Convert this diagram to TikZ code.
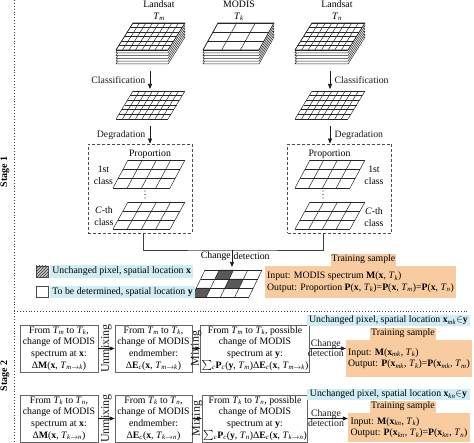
\documentclass[tikz,border=0pt]{standalone}
\usepackage{fontspec}
\setmainfont{Liberation Serif}
\usepackage{tikz}
\usetikzlibrary{positioning}
\usetikzlibrary{arrows.meta}
\usetikzlibrary{patterns}
\usepackage{xcolor}

\definecolor{locblue}{RGB}{208,236,245}
\definecolor{sampleorange}{RGB}{249,203,160}

\newcommand{\Tsub}[1]{\textit{T}\textsubscript{\textit{#1}}}
\newcommand{\bx}{\textbf{x}}
\newcommand{\by}{\textbf{y}}
\newcommand{\csub}{\textsubscript{\textit{c}}}

% lines of a raster, drawn from its top-left corner (use inside a slanted scope)
\newcommand{\cellgrid}[4]{%
  \foreach \i in {0,...,#3} \draw[gridline] (#1*\i/#3,0) -- (#1*\i/#3,#2);
  \foreach \j in {0,...,#4} \draw[gridline] (0,#2*\j/#4) -- (#1,#2*\j/#4);
}

\tikzset{
  gridline/.style={black!85, line width=0.5pt},
  layer/.style={draw=black!85, fill=white, line width=0.5pt},
  flow/.style={-{Triangle[length=5pt,width=4pt]}, black!90, line width=0.7pt},
  wire/.style={black!75, line width=0.7pt},
  propbox/.style={draw=black!70, dash pattern=on 3pt off 2pt, line width=0.9pt, minimum width=104pt, minimum height=89pt, inner sep=0pt},
  stepbox/.style={draw=black!60, line width=0.7pt, align=center, minimum height=47pt, inner xsep=1pt, inner ysep=0pt},
  locbox/.style={fill=locblue, inner xsep=2pt, inner ysep=2pt},
  samplehead/.style={fill=sampleorange, inner xsep=1pt, inner ysep=1.5pt},
  samplebox/.style={fill=sampleorange, align=left, inner xsep=2pt},
  keysq/.style={draw=black!70, minimum width=12pt, minimum height=11pt, inner sep=0pt},
  stagedots/.style={black!75, dotted, line width=0.9pt},
  vlabel/.style={rotate=90, font=\fontsize{12}{14}\selectfont, inner sep=0pt},
  stagelabel/.style={rotate=90, font=\bfseries\fontsize{10}{12}\selectfont},
}

\begin{document}
\begin{tikzpicture}[x=1pt, y=-1pt, font=\fontsize{9.8}{11.7}\selectfont]
\useasboundingbox (0,0) rectangle (474,443);

% stages
\draw[stagedots] (14,0) -- (14,443);
\draw[stagedots] (14,311) -- (467,311);
\node[stagelabel] (st1) at (5,172) {Stage 1};
\node[stagelabel] (st2) at (5,376) {Stage 2};

% input images
\node[align=center] (lsm) at (159,11) {Landsat\\\Tsub{m}};
\node[align=center] (mod) at (239,11) {MODIS\\\Tsub{k}};
\node[align=center] (lsn) at (337,11) {Landsat\\\Tsub{n}};

\foreach \k in {5,...,0}
  \draw[layer, shift={(0,2.8*\k)}] (133,23) -- ++(52,0) -- ++(-17,27) -- ++(-52,0) -- cycle;
\begin{scope}[shift={(133,23)}, xslant=17/27] \cellgrid{52}{27}{8}{6} \end{scope}

\foreach \k in {5,...,0}
  \draw[layer, shift={(0,2.8*\k)}] (218,23) -- ++(56,0) -- ++(-15,27) -- ++(-56,0) -- cycle;
\begin{scope}[shift={(218,23)}, xslant=15/27] \cellgrid{56}{27}{3}{3} \end{scope}

\foreach \k in {5,...,0}
  \draw[layer, shift={(0,2.8*\k)}] (312,23) -- ++(53,0) -- ++(-17,27) -- ++(-53,0) -- cycle;
\begin{scope}[shift={(312,23)}, xslant=17/27] \cellgrid{53}{27}{8}{6} \end{scope}

% classification
\coordinate (lc1) at (150,71);
\coordinate (lc2) at (150,89);
\draw[flow] (lc1) -- (lc2) node[midway, left=1pt] {Classification};
\coordinate (rc1) at (330,71);
\coordinate (rc2) at (330,89);
\draw[flow] (rc1) -- (rc2) node[midway, right=1pt] {Classification};

\begin{scope}[shift={(133,91)}, xslant=17/28] \cellgrid{52}{28}{8}{6} \end{scope}
\begin{scope}[shift={(312,91)}, xslant=17/28] \cellgrid{53}{28}{8}{6} \end{scope}

% degradation into proportions
\node[propbox] (pbl) at (140,188.5) {};
\node[propbox] (pbr) at (339.5,188.5) {};

\coordinate (ld) at (150,126);
\draw[flow] (ld) -- (ld |- pbl.north) node[midway, left=1pt] {Degradation};
\coordinate (rd) at (330,126);
\draw[flow] (rd) -- (rd |- pbr.north) node[midway, right=1pt] {Degradation};

\node (prl) at (150,154) {Proportion};
\node (prr) at (329.5,154) {Proportion};

\begin{scope}[shift={(128,160)}, xslant=15/28] \cellgrid{57}{28}{4}{3} \end{scope}
\begin{scope}[shift={(128,202)}, xslant=15/27] \cellgrid{57}{27}{4}{3} \end{scope}
\begin{scope}[shift={(310,160)}, xslant=15/28] \cellgrid{55}{28}{4}{3} \end{scope}
\begin{scope}[shift={(310,202)}, xslant=15/27] \cellgrid{55}{27}{4}{3} \end{scope}

\node[align=center] (c1l) at (103.5,175) {1st\\class};
\node[align=center] (cCl) at (104,216) {\textit{C}-th\\class};
\node[align=center] (c1r) at (374,175) {1st\\class};
\node[align=center] (cCr) at (374,217) {\textit{C}-th\\class};
% vertical dots between the class rasters
\foreach \d in {191,194.5,198} {
  \fill[black!85] (145,\d) circle [radius=0.6];
  \fill[black!85] (323,\d) circle [radius=0.6];
}

% change detection
\coordinate (cdj) at (232,250);
\coordinate (cdg) at (232,267);
\draw[wire] ([xshift=3pt]pbl.south) |- (cdj) -| ([xshift=-16.5pt]pbr.south);
\draw[flow] (cdj) -- (cdg);
\node[anchor=east, inner sep=0.5pt] (chg) at (231.5,256) {Change};
\node[anchor=west, inner sep=0.5pt] (det) at (233,256) {detection};

\begin{scope}[shift={(205,270)}, xslant=13/27]
  \fill[black!65] (57/4,0) rectangle ++(57/4,9);
  \fill[black!65] (2*57/4,9) rectangle ++(57/4,9);
  \fill[black!65] (0,18) rectangle ++(57/4,9);
  \cellgrid{57}{27}{4}{3}
\end{scope}

% legend
\node[keysq, fill=gray!45, postaction={pattern=north east lines, pattern color=black!80}] (lgx) at (42,271.5) {};
\node[locbox, right=2pt of lgx] (lgxt) {Unchanged pixel, spatial location \bx};
\node[keysq, fill=white] (lgy) at (42,292) {};
\node[locbox, right=2pt of lgy] (lgyt) {To be determined, spatial location \by};

% training sample, stage 1
\node[samplebox, minimum width=187pt, minimum height=32pt] (io1) at (360.5,282)
  {Input: MODIS spectrum \textbf{M}(\bx, \Tsub{k})\\Output: Proportion \textbf{P}(\bx, \Tsub{k})=\textbf{P}(\bx, \Tsub{m})=\textbf{P}(\bx, \Tsub{n})};
\node[samplehead, above=0pt of io1, xshift=3pt] (ts1) {Training sample};

% stage 2, T_m to T_k
\node[stepbox, minimum width=78pt] (mk1) at (59,348.5)
  {From \Tsub{m} to \Tsub{k},\\change of MODIS\\spectrum at \bx:\\Δ\textbf{M}(\bx, \Tsub{m$\rightarrow$k})};
\node[stepbox, minimum width=77pt] (mk2) at (153.5,348.5)
  {From \Tsub{m} to \Tsub{k},\\change of MODIS\\endmember:\\Δ\textbf{E}\csub(\bx, \Tsub{m$\rightarrow$k})};
\node[stepbox, minimum width=104pt] (mk3) at (255,348.5)
  {From \Tsub{m} to \Tsub{k}, possible\\change of MODIS\\spectrum at \by:\\$\textstyle\sum$\csub\textbf{P}\csub(\by, \Tsub{m})Δ\textbf{E}\csub(\bx, \Tsub{m$\rightarrow$k})};
\draw[flow] (mk1) -- node[vlabel] {Unmixing} (mk2);
\draw[flow] (mk2) -- node[vlabel] {Mixing} (mk3);

\node[locbox, minimum width=163pt, inner ysep=1pt] (ux1) at (388.5,320.5)
  {Unchanged pixel, spatial location \bx\textsubscript{\textit{mk}}$\in$\by};
\node[samplebox, minimum width=122pt, minimum height=37pt] (io21) at (409,358.5)
  {Input: \textbf{M}(\bx\textsubscript{\textit{mk}}, \Tsub{k})\\Output: \textbf{P}(\bx\textsubscript{\textit{mk}}, \Tsub{k})=\textbf{P}(\bx\textsubscript{\textit{mk}}, \Tsub{m})};
\node[samplehead, above=0pt of io21, xshift=-6pt] (ts21) {Training sample};
\draw[flow] (mk3) -- (mk3 -| io21.west) node[midway, xshift=-2pt, align=center, font=\fontsize{9.8}{10}\selectfont] {Change\\detection};

% stage 2, T_k to T_n
\node[stepbox, minimum width=78pt] (kn1) at (59,418.5)
  {From \Tsub{k} to \Tsub{n},\\change of MODIS\\spectrum at \bx:\\Δ\textbf{M}(\bx, \Tsub{k$\rightarrow$n})};
\node[stepbox, minimum width=77pt] (kn2) at (153.5,418.5)
  {From \Tsub{k} to \Tsub{n},\\change of MODIS\\endmember:\\Δ\textbf{E}\csub(\bx, \Tsub{k$\rightarrow$n})};
\node[stepbox, minimum width=104pt] (kn3) at (255,418.5)
  {From \Tsub{k} to \Tsub{n}, possible\\change of MODIS\\spectrum at \by:\\$\textstyle\sum$\csub\textbf{P}\csub(\by, \Tsub{n})Δ\textbf{E}\csub(\bx, \Tsub{k$\rightarrow$n})};
\draw[flow] (kn1) -- node[vlabel] {Unmixing} (kn2);
\draw[flow] (kn2) -- node[vlabel] {Mixing} (kn3);

\node[locbox, minimum width=163pt, inner ysep=1pt] (ux2) at (388.5,394.5)
  {Unchanged pixel, spatial location \bx\textsubscript{\textit{kn}}$\in$\by};
\node[samplebox, minimum width=122pt, minimum height=29pt] (io22) at (409,427.5)
  {Input: \textbf{M}(\bx\textsubscript{\textit{kn}}, \Tsub{k})\\Output: \textbf{P}(\bx\textsubscript{\textit{kn}}, \Tsub{k})=\textbf{P}(\bx\textsubscript{\textit{kn}}, \Tsub{n})};
\node[samplehead, above=0pt of io22, xshift=-6pt] (ts22) {Training sample};
\draw[flow] (kn3) -- (kn3 -| io22.west) node[midway, xshift=-2pt, align=center, font=\fontsize{9.8}{10}\selectfont] {Change\\detection};

\end{tikzpicture}
\end{document}
